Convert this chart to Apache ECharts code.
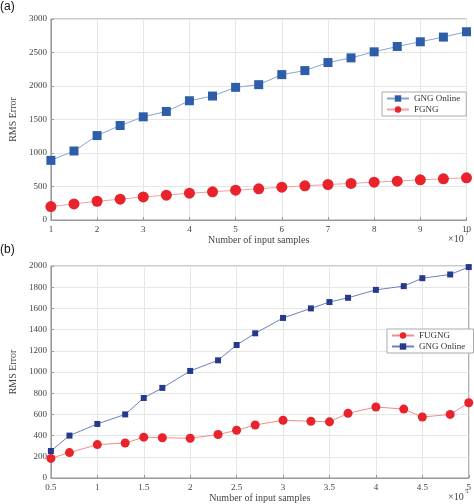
<!DOCTYPE html>
<html><head><meta charset="utf-8">
<script src="https://cdn.jsdelivr.net/npm/echarts@6/dist/echarts.min.js"></script>
<style>html,body{margin:0;padding:0;background:#fff}#c{width:474px;height:504px}</style>
</head><body><div id="c"></div>
<script>
const xA = [1,1.5,2,2.5,3,3.5,4,4.5,5,5.5,6,6.5,7,7.5,8,8.5,9,9.5,10];
const gngA = [890,1030,1260,1410,1540,1620,1780,1850,1980,2020,2170,2230,2350,2420,2510,2590,2660,2730,2810];
const fgngA = [200,240,280,310,345,370,400,420,445,465,490,510,530,545,565,580,600,615,630];
const xB = [0.5,0.7,1,1.3,1.5,1.7,2,2.3,2.5,2.7,3,3.3,3.5,3.7,4,4.3,4.5,4.8,5];
const gngB = [255,400,510,600,755,850,1010,1110,1255,1365,1510,1600,1660,1700,1775,1810,1885,1920,1990];
const fugngB = [185,240,315,330,385,380,375,410,450,500,545,535,530,610,670,650,575,600,710];

const F = 'Liberation Serif';
const pair = (xs, ys) => xs.map((x,i)=>[x,ys[i]]);
const blue = '#2e5eaa', red = '#e8232b', navy = '#253a8a';
function xAxis(gi, min, max, interval){
  return {type:'value', gridIndex:gi, min, max, interval,
    name:'Number of input samples', nameLocation:'middle', nameGap:13,
    nameTextStyle:{fontFamily:F,fontSize:10,color:'#444'},
    axisLine:{lineStyle:{color:'#999'}}, axisTick:{inside:true,length:3,lineStyle:{color:'#999'}},
    axisLabel:{fontFamily:F,fontSize:9,color:'#444',margin:5,formatter:v=>String(v)},
    splitLine:{lineStyle:{color:'#e6e6e6'}}};
}
function yAxis(gi, max, interval){
  return {type:'value', gridIndex:gi, min:0, max, interval,
    name:'RMS Error', nameLocation:'middle', nameGap:24,
    nameTextStyle:{fontFamily:F,fontSize:10,color:'#444'},
    axisLine:{show:true,lineStyle:{color:'#999'}}, axisTick:{show:true,inside:true,length:3,lineStyle:{color:'#999'}},
    axisLabel:{fontFamily:F,fontSize:9,color:'#444',margin:4,formatter:v=>String(v)},
    splitLine:{lineStyle:{color:'#e6e6e6'}}};
}
const chart = echarts.init(document.getElementById('c'));
chart.setOption({
  animation:false,
  grid:[
    {left:33,right:4,top:19,height:201,show:true,borderColor:'#999',borderWidth:1},
    {left:33,right:4,top:266,height:212,show:true,borderColor:'#999',borderWidth:1}
  ],
  xAxis:[xAxis(0,1,10,1), xAxis(1,0.5,5,0.5)],
  yAxis:[yAxis(0,3000,500), yAxis(1,2000,200)],
  legend:[
    {data:['GNG Online','FGNG'], orient:'vertical', left:382, top:92, itemGap:2, itemWidth:22, itemHeight:8,
     backgroundColor:'#fff', borderColor:'#aaa', borderWidth:1, padding:[2,6,2,4],
     textStyle:{fontFamily:F,fontSize:9,color:'#333'}},
    {data:['FUGNG','GNG Online '], orient:'vertical', left:387, top:329, itemGap:2, itemWidth:22, itemHeight:8,
     backgroundColor:'#fff', borderColor:'#aaa', borderWidth:1, padding:[2,6,2,4],
     textStyle:{fontFamily:F,fontSize:9,color:'#333'}}
  ],
  series:[
    {name:'GNG Online', type:'line', xAxisIndex:0, yAxisIndex:0, data:pair(xA,gngA), symbol:'rect', symbolSize:9,
     itemStyle:{color:blue}, lineStyle:{color:'#8aa3d6',width:1}},
    {name:'FGNG', type:'line', xAxisIndex:0, yAxisIndex:0, data:pair(xA,fgngA), symbol:'circle', symbolSize:11,
     itemStyle:{color:red}, lineStyle:{color:'#f2a0a0',width:1}},
    {name:'FUGNG', type:'line', xAxisIndex:1, yAxisIndex:1, data:pair(xB,fugngB), symbol:'circle', symbolSize:9,
     itemStyle:{color:red}, lineStyle:{color:'#f08c8c',width:1}},
    {name:'GNG Online ', type:'line', xAxisIndex:1, yAxisIndex:1, data:pair(xB,gngB), symbol:'rect', symbolSize:6,
     itemStyle:{color:navy}, lineStyle:{color:'#6f7fc0',width:1}}
  ],
  graphic:[
    {type:'text', left:0, top:1, style:{text:'(a)', fontFamily:'Liberation Sans', fontSize:12, fill:'#111'}},
    {type:'text', left:0, top:244, style:{text:'(b)', fontFamily:'Liberation Sans', fontSize:12, fill:'#111'}},
    {type:'text', x:448, y:234, style:{text:'×10', fontFamily:F, fontSize:10, fill:'#444'}},
    {type:'text', x:465, y:230, style:{text:'7', fontFamily:F, fontSize:7, fill:'#444'}},
    {type:'text', x:448, y:492, style:{text:'×10', fontFamily:F, fontSize:10, fill:'#444'}},
    {type:'text', x:465, y:488, style:{text:'5', fontFamily:F, fontSize:7, fill:'#444'}}
  ]
});
</script></body></html>
